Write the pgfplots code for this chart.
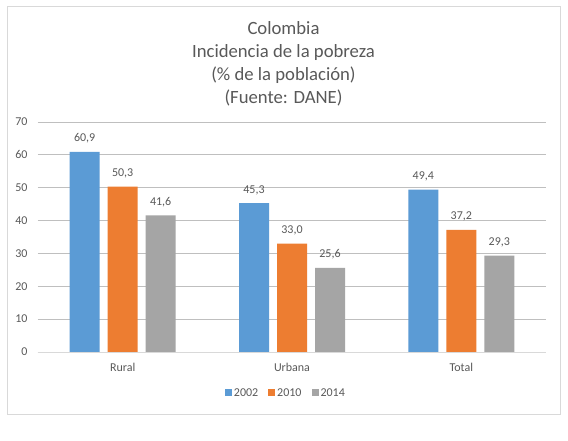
\documentclass[border=0pt]{standalone}
\usepackage{pgfplots}
\pgfplotsset{compat=1.18}
\usepackage{fontspec}
\setmainfont{Carlito}
\definecolor{cblue}{HTML}{5B9BD5}
\definecolor{corange}{HTML}{ED7D31}
\definecolor{cgray}{HTML}{A5A5A5}
\definecolor{grid}{HTML}{D9D9D9}
\definecolor{txt}{HTML}{595959}
\begin{document}
\begin{tikzpicture}
\path[fill=white] (0,0) rectangle (568bp,441bp);
\draw[grid,line width=0.75bp] (7bp,27bp) rectangle (560bp,435bp);
\node[align=center,text=txt,font=\fontsize{18.7bp}{23bp}\selectfont] at (283.5bp,377bp)
 {Colombia\\Incidencia de la pobreza\\(\% de la población)\\(Fuente: DANE)};
\begin{axis}[
 at={(38bp,89bp)}, anchor=south west,
 scale only axis, width=508bp, height=230bp,
 xmin=-0.5, xmax=2.5, ymin=0, ymax=70,
 ybar=8bp, bar width=30bp,
 xtick={0,1,2}, xticklabels={Rural,Urbana,Total},
 ytick={0,10,...,70},
 major tick length=0,
 xtick style={draw=none}, ytick style={draw=none},
 xmajorgrids=false,
 axis x line=bottom, axis y line=left,
 x axis line style={draw=grid,line width=0.75bp,-},
 y axis line style={draw=none},
 ymajorgrids, grid style={grid,line width=0.75bp},
 tick label style={text=txt,font=\fontsize{12bp}{14bp}\selectfont},
 /pgf/number format/assume math mode=true,
 yticklabel style={xshift=-7bp},
 xticklabel style={yshift=-8bp},
 nodes near coords,
 nodes near coords style={/pgf/number format/use comma,/pgf/number format/fixed,
   /pgf/number format/fixed zerofill,/pgf/number format/precision=1,
   text=txt,font=\fontsize{12bp}{14bp}\selectfont,yshift=5bp},
 legend columns=3,
 legend style={draw=none,at={(0.488,-0.178)},anchor=center,
   font=\fontsize{12bp}{14bp}\selectfont,text=txt,
   /tikz/every even column/.append style={column sep=8bp}},
 legend image code/.code={\fill[#1] (0bp,-3.5bp) rectangle (7bp,3.5bp);},
]
\addplot[fill=cblue,draw=none] coordinates {(0,60.9) (1,45.3) (2,49.4)};
\addplot[fill=corange,draw=none] coordinates {(0,50.3) (1,33.0) (2,37.2)};
\addplot[fill=cgray,draw=none] coordinates {(0,41.6) (1,25.6) (2,29.3)};
\legend{2002,2010,2014}
\end{axis}
\end{tikzpicture}
\end{document}
